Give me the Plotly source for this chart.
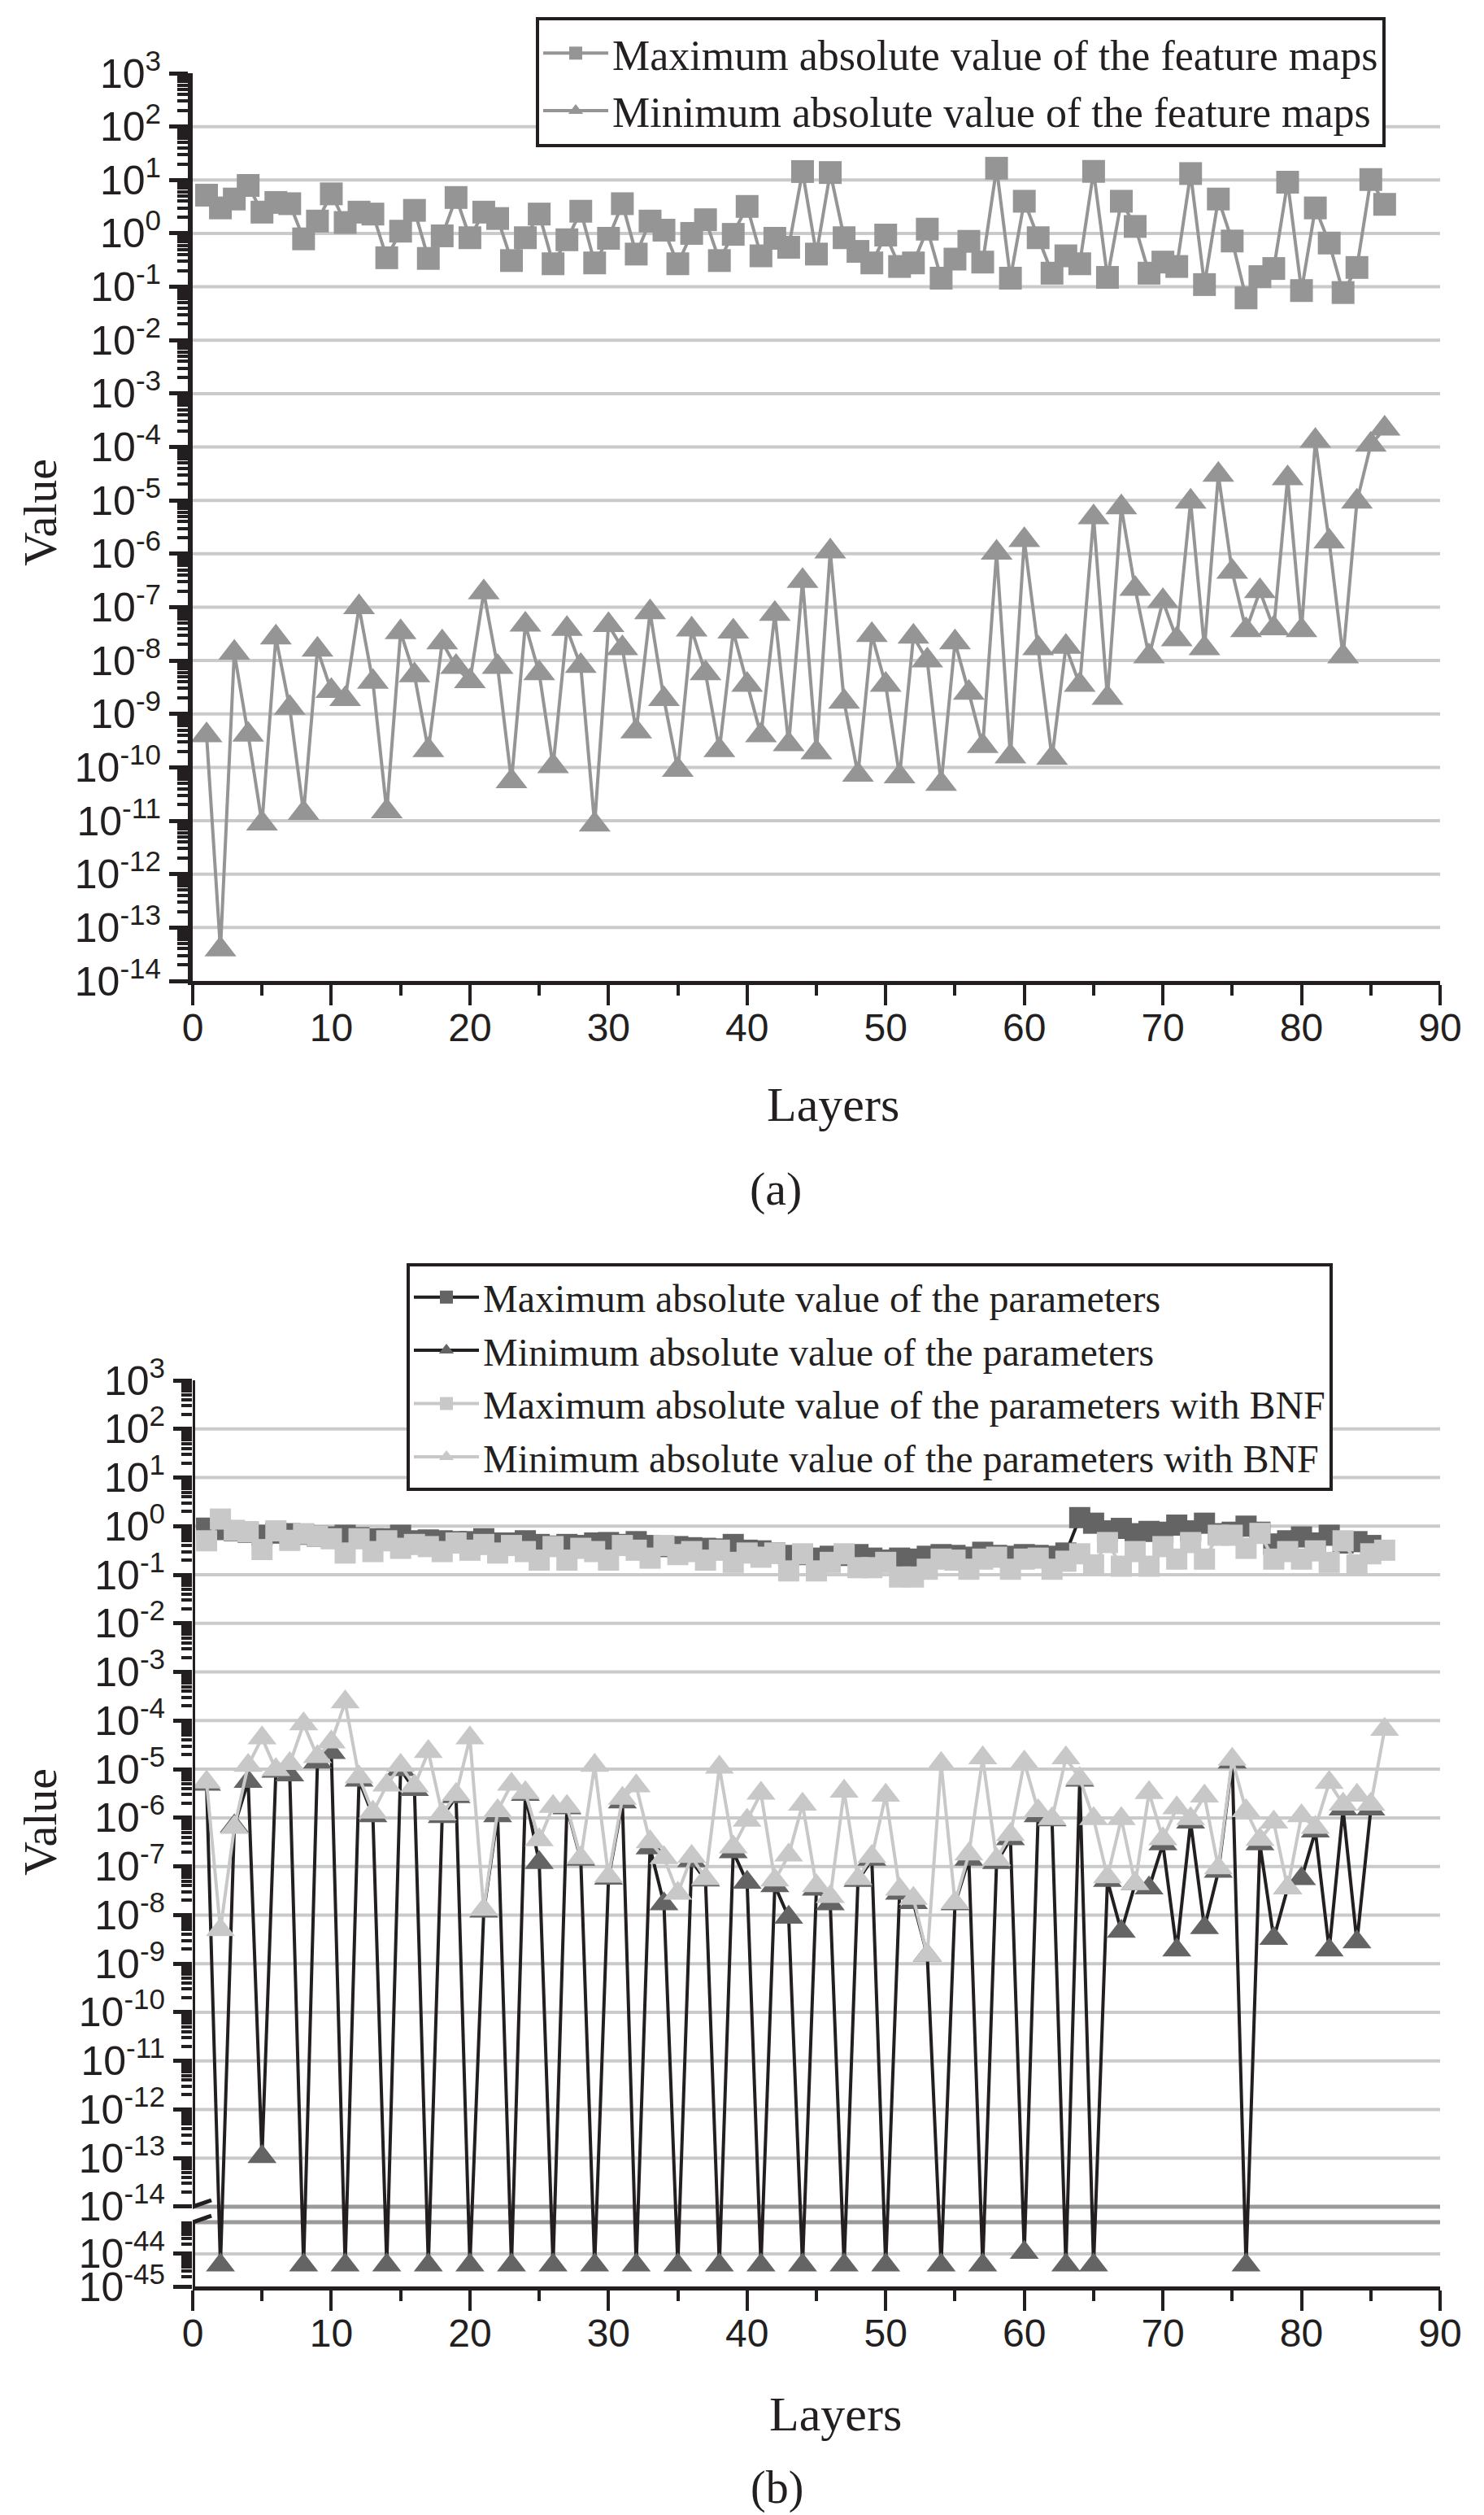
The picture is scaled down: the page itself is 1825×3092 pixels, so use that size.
import numpy as np
import plotly.graph_objects as go

W, H = 1825, 3092

# ---------------- Panel (a) data ----------------
layers_a = list(range(1, 87))
fm_max = [5.2, 3.0, 4.4, 7.9, 2.5, 3.8, 3.6, 0.79, 1.7, 5.5,
          1.6, 2.5, 2.3, 0.35, 1.1, 2.7, 0.34, 0.9, 4.7, 0.83,
          2.5, 1.9, 0.31, 0.83, 2.3, 0.27, 0.76, 2.6, 0.28, 0.81,
          3.6, 0.41, 1.7, 1.15, 0.27, 1.0, 1.8, 0.31, 0.96, 3.2,
          0.38, 0.81, 0.55, 14.4, 0.41, 13.8, 0.83, 0.46, 0.28, 0.93,
          0.24, 0.28, 1.2, 0.145, 0.33, 0.71, 0.29, 16.6, 0.145, 4.0,
          0.83, 0.18, 0.38, 0.27, 14.5, 0.15, 4.0, 1.35, 0.18, 0.29,
          0.24, 13.2, 0.11, 4.4, 0.72, 0.062, 0.155, 0.22, 9.1, 0.085,
          3.0, 0.66, 0.078, 0.23, 10.2, 3.5]
fm_min = [4e-10, 3.9e-14, 1.4e-8, 4.1e-10, 8.9e-12, 2.7e-8, 1.3e-9, 1.4e-11, 1.6e-8, 2.7e-9,
          1.9e-9, 1.0e-7, 4.0e-9, 1.5e-11, 3.4e-8, 5.3e-9, 2.1e-10, 2.2e-8, 7.6e-9, 4.1e-9,
          1.9e-7, 7.6e-9, 5.5e-11, 4.7e-8, 5.8e-9, 1.05e-10, 3.9e-8, 7.9e-9, 8.5e-12, 4.6e-8,
          1.7e-8, 4.7e-10, 8e-8, 1.9e-9, 9e-11, 3.8e-8, 5.8e-9, 2.1e-10, 3.5e-8, 3.5e-9,
          4e-10, 7.5e-8, 2.7e-10, 3.1e-7, 1.9e-10, 1.1e-6, 1.7e-9, 7.3e-11, 3e-8, 3.5e-9,
          6.8e-11, 2.8e-8, 1.0e-8, 4.9e-11, 2.2e-8, 2.5e-9, 2.5e-10, 1.05e-6, 1.6e-10, 1.8e-6,
          1.7e-8, 1.5e-10, 1.8e-8, 3.5e-9, 4.8e-6, 2e-9, 7.4e-6, 2.2e-7, 1.2e-8, 1.3e-7,
          2.5e-8, 9.5e-6, 1.7e-8, 3e-5, 4.6e-7, 3.7e-8, 2e-7, 4e-8, 2.6e-5, 3.7e-8,
          1.3e-4, 1.7e-6, 1.2e-8, 9.5e-6, 1.1e-4, 2.2e-4]

# ---------------- Panel (b) data ----------------
layers_b = list(range(1, 87))
par_max = [0.91, 0.85, 0.8, 0.75, 0.65, 0.72, 0.7, 0.68, 0.62, 0.6,
           0.65, 0.58, 0.55, 0.55, 0.65, 0.5, 0.52, 0.5, 0.48, 0.48,
           0.55, 0.45, 0.45, 0.5, 0.42, 0.39, 0.42, 0.4, 0.45, 0.46,
           0.42, 0.48, 0.4, 0.38, 0.38, 0.36, 0.35, 0.34, 0.42, 0.32,
           0.31, 0.28, 0.25, 0.26, 0.22, 0.24, 0.25, 0.26, 0.22, 0.2,
           0.22, 0.21, 0.24, 0.26, 0.25, 0.23, 0.29, 0.25, 0.24, 0.26,
           0.25, 0.24, 0.28, 1.5, 1.15, 0.8, 0.9, 0.7, 0.78, 0.75,
           1.05, 0.8, 1.15, 0.7, 0.75, 1.0, 0.75, 0.43, 0.5, 0.6,
           0.45, 0.65, 0.45, 0.48, 0.4]
par_min = [4.9e-6, 4.5e-45, 6.8e-7, 5.6e-6, 1.07e-13, 9e-6, 7.6e-6, 4.5e-45, 1.4e-5, 2.2e-5,
           4.5e-45, 5.9e-6, 1.1e-6, 4.5e-45, 9.8e-6, 3.8e-6, 4.5e-45, 1.05e-6, 2.7e-6, 4.5e-45,
           1.2e-8, 1.1e-6, 4.5e-45, 3e-6, 1.2e-7, 4.5e-45, 1.6e-6, 1.4e-7, 4.5e-45, 5.7e-8,
           2.1e-6, 4.5e-45, 2.4e-7, 1.7e-8, 4.5e-45, 1.3e-7, 5.2e-8, 4.5e-45, 2e-7, 4.7e-8,
           4.5e-45, 4e-8, 9e-9, 4.5e-45, 3.4e-8, 1.7e-8, 4.5e-45, 5.1e-8, 1.4e-7, 4.5e-45,
           2.8e-8, 1.8e-8, 1.5e-9, 4.5e-45, 1.7e-8, 1.4e-7, 4.5e-45, 1.2e-7, 3.7e-7, 1.1e-44,
           1.1e-6, 9e-7, 4.5e-45, 5.9e-6, 4.5e-45, 5.1e-8, 4.6e-9, 4.4e-8, 3.6e-8, 2.9e-7,
           1.9e-9, 8.1e-7, 5.5e-9, 7.9e-8, 1.4e-5, 4.5e-45, 2.9e-7, 3.3e-9, 3.6e-8, 5.6e-8,
           5.3e-7, 1.9e-9, 1.5e-6, 2.8e-9, 1.5e-6]
bnf_max = [0.5, 1.4, 0.82, 0.77, 0.33, 0.8, 0.51, 0.7, 0.62, 0.55,
           0.28, 0.55, 0.3, 0.5, 0.35, 0.42, 0.38, 0.3, 0.45, 0.32,
           0.42, 0.28, 0.4, 0.3, 0.2, 0.38, 0.2, 0.35, 0.3, 0.2,
           0.4, 0.32, 0.22, 0.4, 0.26, 0.3, 0.2, 0.32, 0.18, 0.28,
           0.23, 0.28, 0.12, 0.27, 0.12, 0.18, 0.27, 0.14, 0.14, 0.18,
           0.09, 0.09, 0.13, 0.21, 0.2, 0.13, 0.21, 0.23, 0.13, 0.21,
           0.22, 0.13, 0.19, 0.27, 0.16, 0.46, 0.15, 0.3, 0.15, 0.38,
           0.21, 0.46, 0.21, 0.65, 0.65, 0.35, 0.71, 0.21, 0.3, 0.21,
           0.31, 0.18, 0.5, 0.16, 0.27, 0.32]
bnf_min = [5.4e-6, 5e-9, 6.3e-7, 1.2e-5, 4.4e-5, 9.8e-6, 1.3e-5, 8.5e-5, 1.8e-5, 3.6e-5,
           2.4e-4, 6.9e-6, 1.3e-6, 4.7e-6, 1.2e-5, 4.5e-6, 2.3e-5, 1.2e-6, 3e-6, 4.4e-5,
           1.3e-8, 1.4e-6, 4.9e-6, 3.3e-6, 3.5e-7, 1.7e-6, 1.7e-6, 1.5e-7, 1.2e-5, 6.3e-8,
           2.5e-6, 4.5e-6, 3.2e-7, 1.5e-7, 2.8e-8, 1.6e-7, 5.6e-8, 1.1e-5, 2.5e-7, 8.9e-7,
           3.2e-6, 5.2e-8, 1.7e-7, 1.9e-6, 4e-8, 2.4e-8, 3.5e-6, 5.6e-8, 1.6e-7, 2.9e-6,
           3.4e-8, 2.2e-8, 1.5e-9, 1.3e-5, 1.8e-8, 1.8e-7, 1.7e-5, 1.4e-7, 4.5e-7, 1.4e-5,
           1.4e-6, 9.6e-7, 1.7e-5, 6.4e-6, 9.6e-7, 6.1e-8, 9.6e-7, 4.4e-8, 3.3e-6, 3.7e-7,
           1.6e-6, 9.6e-7, 2.8e-6, 9.3e-8, 1.6e-5, 1.4e-6, 3.6e-7, 8.1e-7, 3.6e-8, 1.1e-6,
           6.3e-7, 5.3e-6, 1.9e-6, 2.9e-6, 1.9e-6, 6.6e-5]

x_ticks = list(range(0, 91, 10))
exp_upper = list(range(3, -15, -1))      # 10^3 ... 10^-14
exp_lower = [-44, -45]                   # below the axis break

# ---------------- broken-axis transform for panel (b) ----------------
BREAK_EXP = -14.0      # lowest decade of the upper segment
GAP_TOP = -14.32       # top of the lower segment (axis units)
LOW_REF_EXP = -44.0
LOW_REF_POS = -14.97
LOW_SCALE = 0.67


def to_pos(v):
    lv = np.log10(np.asarray(v, dtype=float))
    return np.where(lv >= BREAK_EXP, lv, LOW_REF_POS + LOW_SCALE * (lv - LOW_REF_EXP))


Y2_MIN = float(to_pos(1e-45))

# ---------------- styling ----------------
SANS = "Liberation Sans, Arial, sans-serif"
SERIF = "Liberation Serif, Times New Roman, serif"
INK = "#231f20"
GRAY_A = "#959595"
DARK = "#646464"
LIGHT = "#c8c8c8"
GRID = "#cacaca"

fig = go.Figure()

# panel (a)
fig.add_trace(go.Scatter(
    x=layers_a, y=fm_max, mode="lines+markers",
    name="Maximum absolute value of the feature maps",
    line=dict(color=GRAY_A, width=4),
    marker=dict(symbol="square", size=28, color=GRAY_A),
    xaxis="x", yaxis="y", legend="legend"))
fig.add_trace(go.Scatter(
    x=layers_a, y=fm_min, mode="lines+markers",
    name="Minimum absolute value of the feature maps",
    line=dict(color=GRAY_A, width=4),
    marker=dict(symbol="triangle-up", size=34, color=GRAY_A),
    xaxis="x", yaxis="y", legend="legend"))

# panel (b)
fig.add_trace(go.Scatter(
    x=layers_b[:len(par_max)], y=to_pos(par_max), mode="lines+markers",
    name="Maximum absolute value of the parameters",
    line=dict(color=INK, width=4),
    marker=dict(symbol="square", size=26, color=DARK),
    xaxis="x2", yaxis="y2", legend="legend2"))
fig.add_trace(go.Scatter(
    x=layers_b[:len(par_min)], y=to_pos(par_min), mode="lines+markers",
    name="Minimum absolute value of the parameters",
    line=dict(color=INK, width=4),
    marker=dict(symbol="triangle-up", size=31, color=DARK),
    xaxis="x2", yaxis="y2", legend="legend2"))
fig.add_trace(go.Scatter(
    x=layers_b[:len(bnf_max)], y=to_pos(bnf_max), mode="lines+markers",
    name="Maximum absolute value of the parameters with BNF",
    line=dict(color=LIGHT, width=4),
    marker=dict(symbol="square", size=26, color=LIGHT),
    xaxis="x2", yaxis="y2", legend="legend2"))
fig.add_trace(go.Scatter(
    x=layers_b[:len(bnf_min)], y=to_pos(bnf_min), mode="lines+markers",
    name="Minimum absolute value of the parameters with BNF",
    line=dict(color=LIGHT, width=4),
    marker=dict(symbol="triangle-up", size=31, color=LIGHT),
    xaxis="x2", yaxis="y2", legend="legend2"))

# ---------------- axes ----------------
def px_x(p):
    return p / W


def px_y(p):
    return 1 - p / H


x_dom = [px_x(229), px_x(1763)]
xtickfont = dict(family=SANS, size=48, color=INK)
ytickfont = dict(family=SANS, size=50, color=INK)

xaxis_common = dict(
    domain=x_dom, range=[0, 90], tickmode="array", tickvals=x_ticks,
    ticktext=[str(v) for v in x_ticks],
    ticks="outside", ticklen=25, tickwidth=4, tickcolor=INK,
    showline=True, linewidth=5, linecolor=INK, showgrid=False, zeroline=False,
    tickfont=xtickfont, ticklabelstandoff=-14,
    minor=dict(tickmode="linear", tick0=0, dtick=5, ticks="outside",
               ticklen=13, tickwidth=4, tickcolor=INK, showgrid=False),
)

minor_a = [k * 10.0 ** n for n in range(-14, 3) for k in range(2, 10)]
yaxis_a = dict(
    type="log", domain=[px_y(1198), px_y(82)], range=[-14, 3], anchor="x",
    tickmode="array", tickvals=[10.0 ** e for e in exp_upper],
    ticktext=[f"10<sup>{e}</sup>" for e in exp_upper],
    ticks="outside", ticklen=23, tickwidth=5, tickcolor=INK,
    showline=True, linewidth=6, linecolor=INK, showgrid=False, zeroline=False,
    tickfont=ytickfont,
    minor=dict(tickmode="array", tickvals=minor_a, ticks="outside",
               ticklen=13, tickwidth=4, tickcolor=INK, showgrid=False),
)

minor_b = [float(np.log10(k * 10.0 ** n)) for n in range(-14, 3) for k in range(2, 10)]
for n in (-45, -44):
    for k in range(2, 10):
        p = float(to_pos(k * 10.0 ** n))
        if p <= GAP_TOP:
            minor_b.append(p)
yvals_b = [float(to_pos(10.0 ** e)) for e in exp_upper + exp_lower]
ytext_b = [f"10<sup>{e}</sup>" for e in exp_upper + exp_lower]
yaxis_b = dict(
    domain=[px_y(2803), px_y(1689)], range=[Y2_MIN, 3], anchor="x2",
    tickmode="array", tickvals=yvals_b, ticktext=ytext_b,
    ticks="outside", ticklen=23, tickwidth=5, tickcolor=INK,
    showline=False, showgrid=False, zeroline=False,
    tickfont=ytickfont,
    minor=dict(tickmode="array", tickvals=minor_b, ticks="outside",
               ticklen=13, tickwidth=4, tickcolor=INK, showgrid=False),
)

# ---------------- shapes: gridlines, break ----------------
shapes = []
for e in range(2, -14, -1):
    shapes.append(dict(type="line", xref="x", yref="y", x0=0, x1=90,
                       y0=10.0 ** e, y1=10.0 ** e,
                       line=dict(color=GRID, width=4), layer="below"))
for e in range(2, -14, -1):
    shapes.append(dict(type="line", xref="x2", yref="y2", x0=0, x1=90, y0=e, y1=e,
                       line=dict(color=GRID, width=4), layer="below"))
shapes.append(dict(type="line", xref="x2", yref="y2", x0=0, x1=90,
                   y0=float(to_pos(1e-44)), y1=float(to_pos(1e-44)),
                   line=dict(color=GRID, width=4), layer="below"))
for yb in (BREAK_EXP, GAP_TOP):
    shapes.append(dict(type="line", xref="x2", yref="y2", x0=0, x1=90, y0=yb, y1=yb,
                       line=dict(color="#9a9a9a", width=5), layer="below"))
# broken y axis line of panel (b)
shapes.append(dict(type="line", xref="x2", yref="y2", x0=0, x1=0, y0=3, y1=BREAK_EXP,
                   line=dict(color=INK, width=6)))
shapes.append(dict(type="line", xref="x2", yref="y2", x0=0, x1=0, y0=GAP_TOP, y1=Y2_MIN,
                   line=dict(color=INK, width=6)))
for yb in (BREAK_EXP, GAP_TOP):
    shapes.append(dict(type="line", xref="x2", xsizemode="pixel", xanchor=0, x0=-23, x1=23,
                       yref="y2", ysizemode="pixel", yanchor=yb, y0=-8, y1=8,
                       line=dict(color=INK, width=5)))

# ---------------- annotations ----------------
ann = []


def text(s, x, y, size, angle=0):
    ann.append(dict(text=s, x=px_x(x), y=px_y(y), xref="paper", yref="paper",
                    showarrow=False, textangle=angle, xanchor="center", yanchor="middle",
                    font=dict(family=SERIF, size=size, color=INK)))


text("Value", 41, 622, 58, -90)
text("Value", 41, 2232, 58, -90)
text("Layers", 1017, 1350, 60)
text("Layers", 1019, 2960, 60)
text("(a)", 946, 1453, 58)
text("(b)", 947, 3050, 56)

legend_common = dict(
    bgcolor="white", bordercolor=INK, borderwidth=4,
    xanchor="left", yanchor="top", itemwidth=80, itemsizing="trace",
    tracegroupgap=0,
)

fig.update_layout(
    width=W, height=H, autosize=False, template="none",
    paper_bgcolor="white", plot_bgcolor="white",
    margin=dict(l=0, r=0, t=0, b=0),
    showlegend=True,
    xaxis=dict(xaxis_common, anchor="y"),
    yaxis=yaxis_a,
    xaxis2=dict(xaxis_common, anchor="y2"),
    yaxis2=yaxis_b,
    legend=dict(legend_common, x=px_x(651), y=px_y(13),
                font=dict(family=SERIF, size=52, color=INK)),
    legend2=dict(legend_common, x=px_x(492), y=px_y(1545),
                 font=dict(family=SERIF, size=48, color=INK)),
    shapes=shapes,
    annotations=ann,
)

fig.write_html("out.html", config=dict(displayModeBar=False))
